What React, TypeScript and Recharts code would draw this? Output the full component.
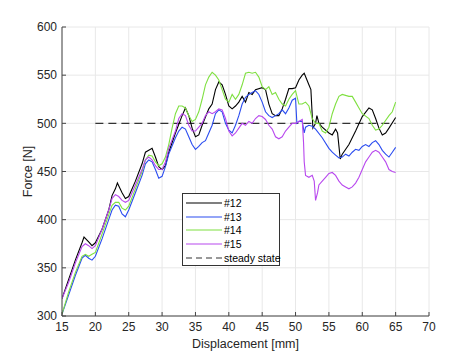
import { CartesianGrid, Line, LineChart, ReferenceLine, XAxis, YAxis } from "recharts";

const xTicks = [15, 20, 25, 30, 35, 40, 45, 50, 55, 60, 65, 70];
const yTicks = [300, 350, 400, 450, 500, 550, 600];

const steadyState = 500;
const steadyFrom = 20;
const steadyTo = 65;

const x12 = [15, 16, 17, 18, 18.3, 19, 19.5, 20, 21, 22, 22.5, 23, 23.3, 24, 24.5, 25, 26, 27, 27.5, 28, 28.5, 29, 29.5, 30, 30.5, 31, 32, 33, 33.5, 34, 34.5, 35, 35.5, 36, 37, 37.5, 38, 38.5, 39, 39.5, 40, 40.5, 41, 41.5, 42, 42.5, 43, 43.5, 44, 45, 45.5, 46, 46.5, 47, 47.5, 48, 48.5, 49, 49.5, 50, 50.5, 51, 51.3, 52, 52.3, 52.6, 53, 53.2, 53.5, 54, 55, 55.5, 56, 56.3, 56.7, 57, 58, 59, 60, 61, 61.5, 62, 62.5, 63, 63.5, 64, 65];
const f12 = [318, 338, 358, 376, 382, 377, 373, 376, 390, 410, 425, 432, 438, 428, 422, 424, 440, 458, 470, 472, 474, 465, 455, 452, 456, 470, 490, 508, 516, 508, 495, 486, 488, 498, 515, 520, 535, 543, 540, 530, 518, 515, 518, 522, 528, 522, 532, 530, 535, 537, 535, 520, 510, 508, 508, 515, 525, 536, 536, 537, 545, 550, 552, 540, 535, 495, 500, 508, 500, 496, 490, 488, 494, 490, 463, 468, 478, 492, 507, 516, 514, 505, 495, 488, 490, 495, 506];

const x13 = [15, 16, 17, 18, 18.5, 19, 19.5, 20, 21, 22, 22.5, 23, 23.5, 24, 24.5, 25, 26, 27, 27.5, 28, 28.5, 29, 29.5, 30, 30.5, 31, 32, 32.5, 33, 33.5, 34, 34.5, 35, 35.5, 36, 36.5, 37, 37.5, 38, 38.5, 39, 39.5, 40, 40.5, 41, 41.5, 42, 42.5, 43, 43.5, 44, 44.5, 45, 45.5, 46, 46.5, 47, 47.5, 48, 48.5, 49, 49.5, 50, 50.2, 50.5, 51, 51.3, 51.5, 52, 52.5, 53, 54, 55, 55.5, 56, 56.5, 57, 57.5, 58, 58.5, 59, 59.5, 60, 60.5, 61, 61.5, 62, 62.5, 63, 63.5, 64, 64.5, 65];
const f13 = [302, 322, 342, 360, 363, 360, 358, 362, 380, 400, 410, 415, 414, 406, 403, 410, 428, 446, 458, 462, 460, 452, 443, 445, 455, 468, 485, 492, 496, 494, 486, 478, 473, 476, 480, 482, 490, 498, 510, 514, 512, 500, 493, 490, 498, 508, 520, 527, 530, 532, 534, 530, 522, 512, 508, 506, 508, 510, 514, 510, 516, 524, 526, 500, 502, 502, 490, 496, 498, 497, 494, 485, 474, 470, 467, 464, 465, 468, 466, 470, 473, 472, 476, 478, 476, 480, 482, 478, 472, 468, 465, 470, 475];

const x14 = [15, 16, 17, 18, 18.5, 19, 19.5, 20, 21, 22, 22.5, 23, 23.5, 24, 24.5, 25, 26, 27, 27.5, 28, 28.5, 29, 29.5, 30, 30.5, 31, 31.5, 32, 32.5, 33, 33.5, 34, 34.5, 35, 35.5, 36, 36.5, 37, 37.5, 38, 38.5, 39, 39.5, 40, 40.5, 41, 41.5, 42, 42.5, 43, 43.5, 44, 44.5, 45, 45.5, 46, 46.5, 47, 47.5, 48, 48.5, 49, 49.5, 50, 50.5, 51, 51.5, 52, 52.5, 53, 53.5, 54, 54.5, 55, 55.5, 56, 56.5, 57, 58, 58.5, 59, 59.5, 60, 61, 61.5, 62, 62.5, 63, 64, 64.5, 65];
const f14 = [302, 325, 345, 362, 364, 362, 364, 366, 385, 405, 415, 418, 418, 412, 410, 414, 432, 450, 462, 467, 466, 460, 456, 458, 465, 478, 495, 510, 518, 518, 516, 508, 502, 504, 512, 525, 540, 548, 553, 550, 545, 535, 525, 522, 530, 525, 530, 540, 552, 553, 552, 553, 548, 538, 535, 538, 530, 532, 525, 520, 518, 525, 530, 534, 520, 520, 522, 518, 505, 500, 500, 492, 490, 496, 510, 520, 528, 530, 528, 528, 522, 516, 510, 505, 498, 493, 494, 498, 508, 512, 522];

const x15 = [15, 16, 17, 18, 18.5, 19, 19.5, 20, 21, 22, 22.5, 23, 23.5, 24, 24.5, 25, 26, 27, 27.5, 28, 28.5, 29, 29.5, 30, 30.5, 31, 32, 32.5, 33, 33.5, 34, 34.5, 35, 35.5, 36, 36.5, 37, 37.5, 38, 38.5, 39, 39.5, 40, 40.5, 41, 41.5, 42, 42.5, 43, 43.5, 44, 44.5, 45, 45.5, 46, 46.5, 47, 47.5, 48, 48.5, 49, 49.5, 50, 50.5, 51, 51.2, 51.3, 51.5, 52, 52.5, 52.8, 53, 53.3, 53.5, 54, 54.5, 55, 55.5, 56, 56.5, 57, 57.5, 58, 58.5, 59, 59.5, 60, 60.5, 61, 61.5, 62, 62.5, 63, 63.5, 64, 64.5, 65];
const f15 = [318, 335, 355, 372, 375, 373, 370, 373, 390, 410, 422, 426, 424, 420, 418, 420, 436, 452, 462, 465, 462, 456, 452, 452, 460, 474, 492, 505, 510, 508, 498, 492, 492, 496, 500, 508, 512, 510, 512, 515, 514, 505, 492, 487, 490, 495, 500, 498, 502, 500, 505, 508, 507, 504, 498, 494, 486, 484, 486, 492, 496, 500, 500, 502, 504, 480, 460, 446, 444, 446, 440, 420, 428, 436, 440, 444, 448, 449, 446, 440, 436, 434, 432, 434, 438, 444, 452, 460, 465, 470, 472, 470, 465, 460, 452, 450, 449];

const toPoints = (xs: number[], fs: number[]) => xs.map((x, i) => ({ x, f: fs[i] }));

const series = [
  { name: "#12", color: "#000000", data: toPoints(x12, f12) },
  { name: "#13", color: "#2a4cf0", data: toPoints(x13, f13) },
  { name: "#14", color: "#7fe040", data: toPoints(x14, f14) },
  { name: "#15", color: "#b848ee", data: toPoints(x15, f15) },
];

const axisColor = "#444";
const textColor = "#262626";
const font = "'Liberation Sans', Arial, sans-serif";

// legend drawn beside the chart, placed over the plot like the MATLAB one
function LegendBox() {
  const rows = [
    ...series.map((s) => ({ name: s.name, color: s.color, dash: undefined as string | undefined })),
    { name: "steady state", color: "#333", dash: "6 4" },
  ];
  return (
    <div
      style={{
        position: "absolute",
        left: 182,
        top: 193,
        width: 98,
        height: 73,
        border: "1px solid #333",
        background: "#fff",
        boxSizing: "border-box",
        paddingTop: 2,
      }}
    >
      {rows.map((r) => (
        <div
          key={r.name}
          style={{ display: "flex", alignItems: "center", height: 13.8, fontFamily: font, fontSize: 10.5, color: "#000", whiteSpace: "nowrap" }}
        >
          <svg width={39} height={6} style={{ marginLeft: 2, flex: "none" }}>
            <line x1={1} y1={3} x2={37} y2={3} stroke={r.color} strokeWidth={1.2} strokeDasharray={r.dash} />
          </svg>
          <span>{r.name}</span>
        </div>
      ))}
    </div>
  );
}

export default function App() {
  return (
    <div style={{ position: "absolute", left: 0, top: 0, width: 474, height: 355, background: "#fff" }}>
      <LineChart width={474} height={355} margin={{ top: 27, right: 45, bottom: 0, left: 17 }}>
        <CartesianGrid stroke="#e8e8e8" strokeWidth={1} />
        <XAxis
          type="number"
          dataKey="x"
          domain={[15, 70]}
          ticks={xTicks}
          allowDataOverflow
          height={39}
          tickSize={-4}
          tickMargin={10}
          stroke={axisColor}
          tick={{ fill: textColor, fontSize: 12, fontFamily: font }}
          label={{ value: "Displacement [mm]", position: "insideBottom", offset: 7, fill: textColor, fontSize: 12.5, fontFamily: font }}
        />
        <YAxis
          type="number"
          dataKey="f"
          domain={[300, 600]}
          ticks={yTicks}
          allowDataOverflow
          width={45}
          tickSize={-4}
          tickMargin={9}
          stroke={axisColor}
          tick={{ fill: textColor, fontSize: 12, fontFamily: font }}
          label={{ value: "Force [N]", angle: -90, position: "insideLeft", offset: 11, fill: textColor, fontSize: 12.5, fontFamily: font, style: { textAnchor: "middle" } }}
        />
        <ReferenceLine
          segment={[
            { x: steadyFrom, y: steadyState },
            { x: steadyTo, y: steadyState },
          ]}
          stroke="#333"
          strokeWidth={1.2}
          strokeDasharray="8 5"
        />
        {series.map((s) => (
          <Line
            key={s.name}
            data={s.data}
            dataKey="f"
            name={s.name}
            type="linear"
            stroke={s.color}
            strokeWidth={1.1}
            dot={false}
            isAnimationActive={false}
          />
        ))}
      </LineChart>
      <LegendBox />
    </div>
  );
}
